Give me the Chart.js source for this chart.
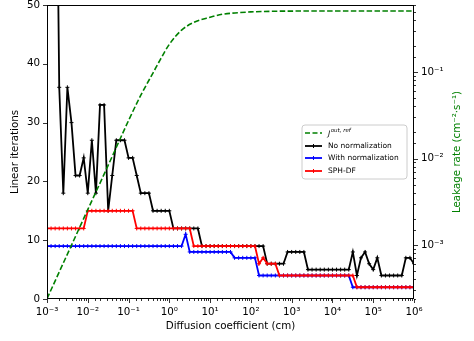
<!DOCTYPE html>
<html>
<head>
<meta charset="utf-8">
<script src="https://cdn.jsdelivr.net/npm/chart.js@4.4.0/dist/chart.umd.min.js"></script>
<style>
  html, body { margin: 0; padding: 0; background: #fff; }
</style>
</head>
<body>
<canvas id="chart" width="474" height="341"></canvas>
<script>
// Exposants du coefficient de diffusion : 10 points par décade, de 1e-3 à 1e6
const logD = [
  -3.0, -2.9, -2.8, -2.7, -2.6, -2.5, -2.4, -2.3, -2.2, -2.1,
  -2.0, -1.9, -1.8, -1.7, -1.6, -1.5, -1.4, -1.3, -1.2, -1.1,
  -1.0, -0.9, -0.8, -0.7, -0.6, -0.5, -0.4, -0.3, -0.2, -0.1,
   0.0,  0.1,  0.2,  0.3,  0.4,  0.5,  0.6,  0.7,  0.8,  0.9,
   1.0,  1.1,  1.2,  1.3,  1.4,  1.5,  1.6,  1.7,  1.8,  1.9,
   2.0,  2.1,  2.2,  2.3,  2.4,  2.5,  2.6,  2.7,  2.8,  2.9,
   3.0,  3.1,  3.2,  3.3,  3.4,  3.5,  3.6,  3.7,  3.8,  3.9,
   4.0,  4.1,  4.2,  4.3,  4.4,  4.5,  4.6,  4.7,  4.8,  4.9,
   5.0,  5.1,  5.2,  5.3,  5.4,  5.5,  5.6,  5.7,  5.8,  5.9,
   6.0
];
const diffCoef = logD.map(e => Math.pow(10, e));

// Itérations linéaires (les 3 premiers points sortent du cadre)
const noNorm = [
  100, 100, 100, 36, 18, 36, 30, 21, 21, 24,
  18, 27, 18, 33, 33, 15, 21, 27, 27, 27,
  24, 24, 21, 18, 18, 18, 15, 15, 15, 15,
  15, 12, 12, 12, 12, 12, 12, 12, 9, 9,
  9, 9, 9, 9, 9, 9, 9, 9, 9, 9,
  9, 9, 9, 9, 6, 6, 6, 6, 6, 8,
  8, 8, 8, 8, 5, 5, 5, 5, 5, 5,
  5, 5, 5, 5, 5, 8, 4, 7, 8, 6,
  5, 7, 4, 4, 4, 4, 4, 4, 7, 7,
  6
];
const withNorm = [
  9, 9, 9, 9, 9, 9, 9, 9, 9, 9,
  9, 9, 9, 9, 9, 9, 9, 9, 9, 9,
  9, 9, 9, 9, 9, 9, 9, 9, 9, 9,
  9, 9, 9, 9, 11, 8, 8, 8, 8, 8,
  8, 8, 8, 8, 8, 8, 7, 7, 7, 7,
  7, 7, 4, 4, 4, 4, 4, 4, 4, 4,
  4, 4, 4, 4, 4, 4, 4, 4, 4, 4,
  4, 4, 4, 4, 4, 2, 2, 2, 2, 2,
  2, 2, 2, 2, 2, 2, 2, 2, 2, 2,
  2
];
const sphDf = [
  12, 12, 12, 12, 12, 12, 12, 12, 12, 12,
  15, 15, 15, 15, 15, 15, 15, 15, 15, 15,
  15, 15, 12, 12, 12, 12, 12, 12, 12, 12,
  12, 12, 12, 12, 12, 12, 9, 9, 9, 9,
  9, 9, 9, 9, 9, 9, 9, 9, 9, 9,
  9, 9, 6, 7, 6, 6, 6, 4, 4, 4,
  4, 4, 4, 4, 4, 4, 4, 4, 4, 4,
  4, 4, 4, 4, 4, 4, 2, 2, 2, 2,
  2, 2, 2, 2, 2, 2, 2, 2, 2, 2,
  2
];

// Taux de fuite de référence (axe de droite)
const leakD    = [1e-3, 4e-3, 1e-2, 3e-2, 0.1, 0.2, 0.4, 0.6, 1, 2, 4, 10, 20, 50, 100, 300, 1e3, 1e4, 1e5, 1e6];
const leakRate = [2.4e-4, 1.0e-3, 2.57e-3, 7.9e-3, 2.75e-2, 5.4e-2, 9.8e-2, 1.39e-1, 2.09e-1, 3.05e-1,
                  3.75e-1, 4.3e-1, 4.65e-1, 4.85e-1, 4.95e-1, 5.03e-1, 5.06e-1, 5.07e-1, 5.07e-1, 5.07e-1];

const seriesNames = ['J', 'No normalization', 'With normalization', 'SPH-DF'];
const seriesColors = ['#008000', '#000000', '#0000ff', '#ff0000'];
const xTitle = 'Diffusion coefficient (cm)';
const yTitle = 'Linear iterations';
const y2Title = 'Leakage rate (cm\u207B\u00B2\u00B7s\u207B\u00B9)';

const FONT = '"DejaVu Sans", sans-serif';
const FS = 10.3;
const SUP = {'-': '\u207B', '0': '\u2070', '1': '\u00B9', '2': '\u00B2', '3': '\u00B3',
             '4': '\u2074', '5': '\u2075', '6': '\u2076', '7': '\u2077', '8': '\u2078', '9': '\u2079'};

function isPow10(v) {
  const e = Math.log10(v);
  return Math.abs(e - Math.round(e)) < 1e-6;
}
function powLabel(v) {
  if (!isPow10(v)) return '';
  const r = Math.round(Math.log10(v));
  return '10' + String(r).split('').map(c => SUP[c]).join('');
}

function pts(xs, ys) {
  return xs.map((x, i) => ({x: x, y: ys[i]}));
}

// largeurs fixes des axes, sans marge ajoutée pour les étiquettes
function fixSize(w, h) {
  return s => {
    if (w !== null) s.width = w;
    if (h !== null) s.height = h;
    s.paddingTop = 0; s.paddingBottom = 0; s.paddingLeft = 0; s.paddingRight = 0;
  };
}

const hidden = 'rgba(0,0,0,0)';

// Traits de graduation, cadre, titre de droite et légende
const extras = {
  id: 'extras',
  afterDraw(chart) {
    const ctx = chart.ctx;
    const a = chart.chartArea;
    const sx = chart.scales.x, sy = chart.scales.y, sy2 = chart.scales.y2;
    ctx.save();
    ctx.strokeStyle = '#000';
    ctx.lineWidth = 0.8;
    ctx.beginPath();
    sx.ticks.forEach(t => {
      const px = Math.round(sx.getPixelForValue(t.value)) + 0.5;
      const len = isPow10(t.value) ? 4 : 2;
      ctx.moveTo(px, a.bottom); ctx.lineTo(px, a.bottom + len);
    });
    sy.ticks.forEach(t => {
      const py = Math.round(sy.getPixelForValue(t.value)) + 0.5;
      ctx.moveTo(a.left, py); ctx.lineTo(a.left - 4, py);
    });
    sy2.ticks.forEach(t => {
      const py = Math.round(sy2.getPixelForValue(t.value)) + 0.5;
      const len = isPow10(t.value) ? 4 : 2;
      ctx.moveTo(a.right, py); ctx.lineTo(a.right + len, py);
    });
    ctx.stroke();

    // cadre
    ctx.lineWidth = 1;
    ctx.strokeRect(a.left + 0.5, a.top + 0.5, a.right - a.left - 1, a.bottom - a.top - 1);

    // titre de l'axe de droite
    ctx.save();
    ctx.translate(457, (a.top + a.bottom) / 2);
    ctx.rotate(-Math.PI / 2);
    ctx.fillStyle = '#008000';
    ctx.font = FS + 'px ' + FONT;
    ctx.textAlign = 'center';
    ctx.textBaseline = 'middle';
    ctx.fillText(y2Title, 0, 0);
    ctx.restore();

    // légende
    const bx = 302, by = 125, bw = 105, bh = 54, r = 3;
    ctx.fillStyle = 'rgba(255,255,255,0.85)';
    ctx.strokeStyle = '#cccccc';
    ctx.lineWidth = 1;
    ctx.beginPath();
    ctx.moveTo(bx + r, by);
    ctx.arcTo(bx + bw, by, bx + bw, by + bh, r);
    ctx.arcTo(bx + bw, by + bh, bx, by + bh, r);
    ctx.arcTo(bx, by + bh, bx, by, r);
    ctx.arcTo(bx, by, bx + bw, by, r);
    ctx.closePath();
    ctx.fill();
    ctx.stroke();

    const rows = [133, 146, 158, 171];
    rows.forEach((ry, i) => {
      ctx.strokeStyle = seriesColors[i];
      ctx.lineWidth = i === 0 ? 1.6 : 1.8;
      ctx.setLineDash(i === 0 ? [5, 2.5] : []);
      ctx.beginPath();
      ctx.moveTo(305, ry); ctx.lineTo(322, ry);
      ctx.stroke();
      ctx.setLineDash([]);
      if (i > 0) {
        ctx.lineWidth = 1;
        ctx.beginPath();
        ctx.moveTo(313.5, ry - 2); ctx.lineTo(313.5, ry + 2);
        ctx.stroke();
      }
      ctx.fillStyle = '#000';
      ctx.textAlign = 'left';
      ctx.textBaseline = 'middle';
      if (i === 0) {
        ctx.font = 'italic 7.5px ' + FONT;
        ctx.fillText(seriesNames[0], 328, ry + 1);
        const w = ctx.measureText(seriesNames[0]).width;
        ctx.font = 'italic 5.5px ' + FONT;
        ctx.fillText('out, ref', 328 + w + 0.5, ry - 2);
      } else {
        ctx.font = '7.5px ' + FONT;
        ctx.fillText(seriesNames[i], 328, ry);
      }
    });
    ctx.restore();
  }
};

const lineDs = (label, ys, color, order) => ({
  label: label,
  data: pts(diffCoef, ys),
  yAxisID: 'y',
  borderColor: color,
  backgroundColor: color,
  borderWidth: 1.8,
  pointStyle: 'cross',
  pointRadius: 2,
  pointBorderWidth: 1,
  pointBorderColor: color,
  tension: 0,
  order: order
});

new Chart(document.getElementById('chart'), {
  type: 'line',
  data: {
    datasets: [
      {
        label: seriesNames[0],
        data: pts(leakD, leakRate),
        yAxisID: 'y2',
        borderColor: '#008000',
        borderWidth: 1.6,
        borderDash: [5.5, 2.4],
        pointRadius: 0,
        cubicInterpolationMode: 'monotone',
        order: 0
      },
      lineDs(seriesNames[3], sphDf, '#ff0000', 1),
      lineDs(seriesNames[2], withNorm, '#0000ff', 2),
      lineDs(seriesNames[1], noNorm, '#000000', 3)
    ]
  },
  options: {
    responsive: false,
    animation: false,
    devicePixelRatio: 1,
    layout: { padding: { top: 5, left: 0, right: 0, bottom: 0 } },
    plugins: { legend: { display: false }, tooltip: { enabled: false } },
    scales: {
      x: {
        type: 'logarithmic',
        position: 'bottom',
        min: 1e-3,
        max: 1e6,
        afterFit: fixSize(null, 42),
        border: { display: false },
        grid: { drawOnChartArea: false, color: hidden, tickColor: hidden, tickLength: 4 },
        ticks: {
          autoSkip: false, maxRotation: 0, padding: 3, color: '#000',
          font: { family: FONT, size: FS },
          callback: v => powLabel(v)
        },
        title: { display: true, text: xTitle, color: '#000', font: { family: FONT, size: FS },
                 padding: { top: 0, bottom: 8 } }
      },
      y: {
        type: 'linear',
        position: 'left',
        min: 0,
        max: 50,
        afterFit: fixSize(47, null),
        border: { display: false },
        grid: { drawOnChartArea: false, color: hidden, tickColor: hidden, tickLength: 4 },
        ticks: { stepSize: 10, padding: 3, color: '#000', font: { family: FONT, size: FS } },
        title: { display: true, text: yTitle, color: '#000', font: { family: FONT, size: FS },
                 padding: { top: 9, bottom: 0 } }
      },
      y2: {
        type: 'logarithmic',
        position: 'right',
        min: 2.38e-4,
        max: 0.595,
        afterFit: fixSize(60, null),
        border: { display: false },
        grid: { drawOnChartArea: false, color: hidden, tickColor: hidden, tickLength: 4 },
        ticks: {
          autoSkip: false, padding: 3, color: '#000',
          font: { family: FONT, size: FS },
          callback: v => powLabel(v)
        }
      }
    }
  },
  plugins: [extras]
});
</script>
</body>
</html>
